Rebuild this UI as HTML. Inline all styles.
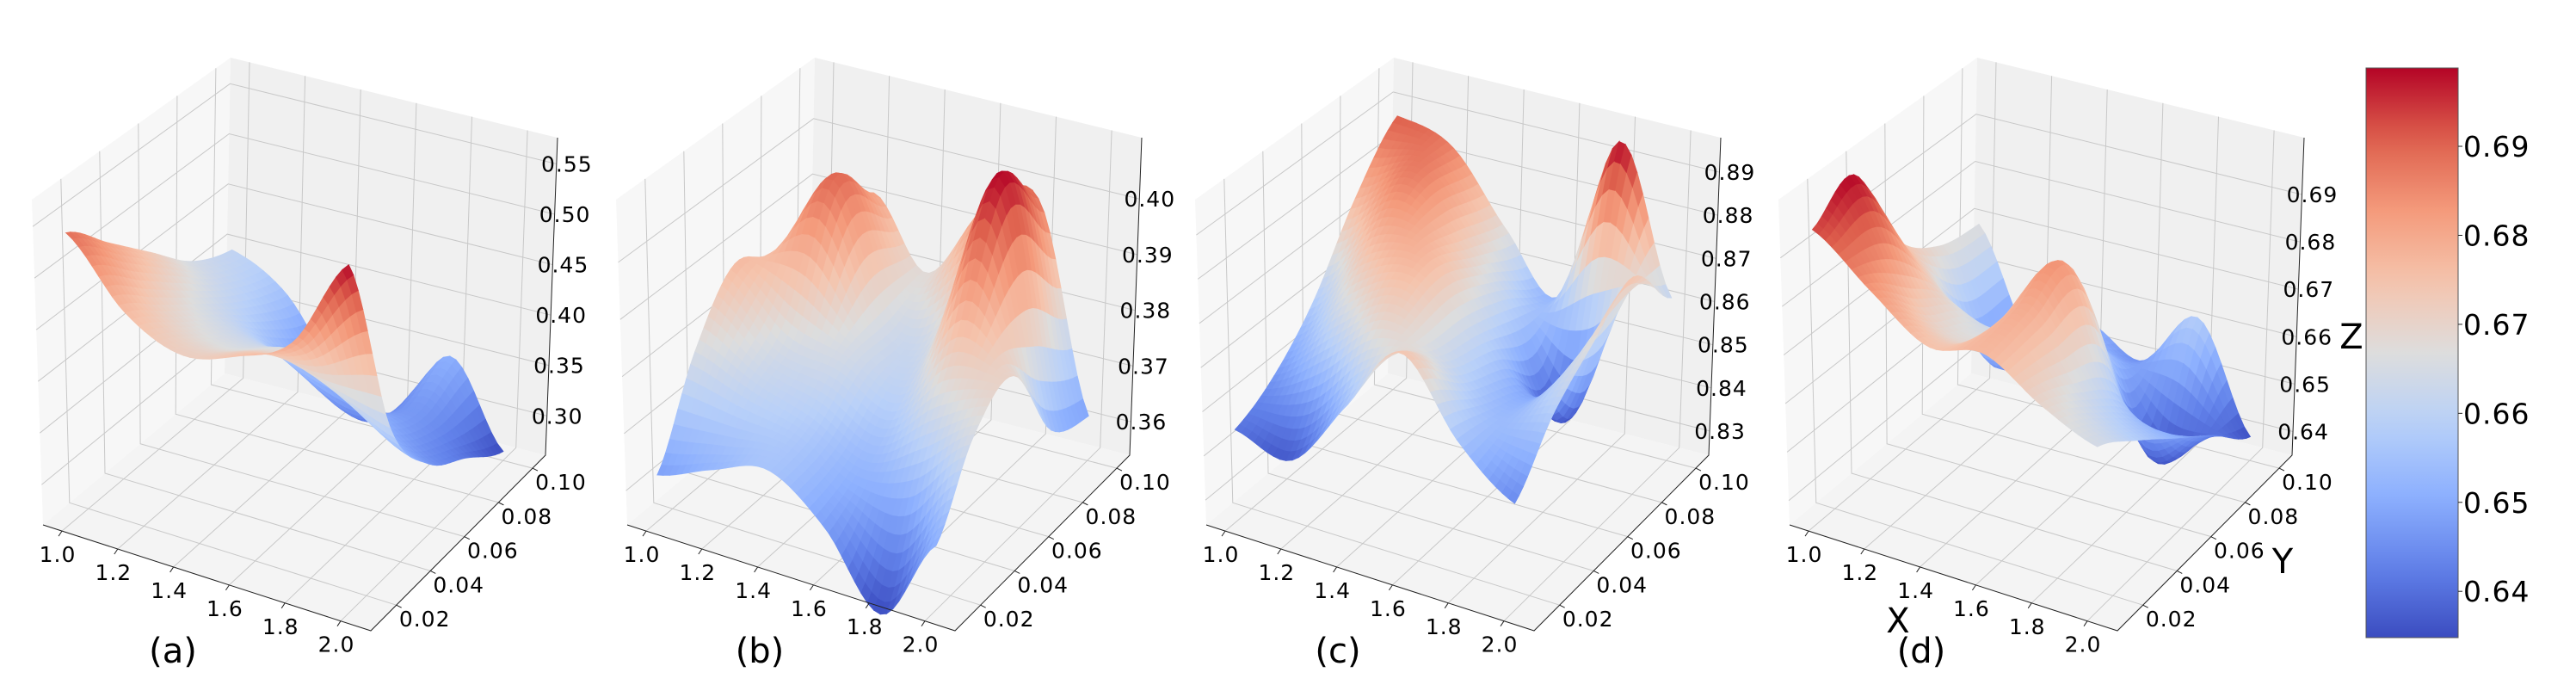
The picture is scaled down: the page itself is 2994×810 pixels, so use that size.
<!DOCTYPE html>
<html><head><meta charset="utf-8"><title>Surfaces</title>
<style>
html,body{margin:0;padding:0;background:#fff;}
svg{display:block;font-family:"DejaVu Sans","Liberation Sans",sans-serif;}
</style></head>
<body>
<svg id="fig" width="2994" height="810" viewBox="0 0 2994 810" xmlns="http://www.w3.org/2000/svg">
<g id="panels"></g>
<g id="cbar"></g>
</svg>
<script>
// ---- data ----
const xGrid = [1.0, 1.2, 1.4, 1.6, 1.8, 2.0];
const yGrid = [0.012, 0.034, 0.056, 0.078, 0.1];
const xTicks = [1.0, 1.2, 1.4, 1.6, 1.8, 2.0];
const xTickLabels = ["1.0","1.2","1.4","1.6","1.8","2.0"];
const yTicks = [0.02, 0.04, 0.06, 0.08, 0.10];
const yTickLabels = ["0.02","0.04","0.06","0.08","0.10"];
const surfaceA = [
 [0.54,0.48,0.455,0.47,0.50,0.59],
 [0.50,0.45,0.43,0.44,0.42,0.40],
 [0.46,0.42,0.40,0.40,0.36,0.33],
 [0.42,0.39,0.34,0.31,0.33,0.30],
 [0.40,0.37,0.30,0.28,0.35,0.27]];
const surfaceB = [
 [0.362,0.366,0.369,0.362,0.350,0.365],
 [0.378,0.374,0.371,0.366,0.370,0.378],
 [0.388,0.380,0.377,0.373,0.386,0.382],
 [0.383,0.400,0.378,0.380,0.408,0.366],
 [0.380,0.392,0.380,0.394,0.398,0.362]];
const surfaceC = [
 [0.845,0.842,0.858,0.874,0.858,0.848],
 [0.850,0.860,0.870,0.865,0.856,0.860],
 [0.860,0.874,0.876,0.862,0.852,0.868],
 [0.876,0.884,0.872,0.858,0.842,0.875],
 [0.888,0.884,0.868,0.856,0.895,0.862]];
const surfaceD = [
 [0.695,0.686,0.678,0.680,0.673,0.668],
 [0.700,0.678,0.672,0.682,0.668,0.662],
 [0.680,0.670,0.668,0.685,0.660,0.655],
 [0.672,0.650,0.660,0.660,0.640,0.648],
 [0.670,0.648,0.655,0.650,0.662,0.640]];
const zTicksA = [0.30,0.35,0.40,0.45,0.50,0.55];
const zTickLabelsA = ["0.30","0.35","0.40","0.45","0.50","0.55"];
const zTicksB = [0.36,0.37,0.38,0.39,0.40];
const zTickLabelsB = ["0.36","0.37","0.38","0.39","0.40"];
const zTicksC = [0.83,0.84,0.85,0.86,0.87,0.88,0.89];
const zTickLabelsC = ["0.83","0.84","0.85","0.86","0.87","0.88","0.89"];
const zTicksD = [0.64,0.65,0.66,0.67,0.68,0.69];
const zTickLabelsD = ["0.64","0.65","0.66","0.67","0.68","0.69"];
const zRangeA = [0.261,0.576], zRangeB = [0.354,0.411], zRangeC = [0.8244,0.898], zRangeD = [0.635,0.702];
const cbarTicks = [0.64,0.65,0.66,0.67,0.68,0.69];
const cbarTickLabels = ["0.64","0.65","0.66","0.67","0.68","0.69"];
const cbarRange = [0.6348,0.6988];
const panelNames = ["(a)","(b)","(c)","(d)"];

// ---- geometry ----
const NS="http://www.w3.org/2000/svg";
const X_MIN=0.932, X_MAX=2.108, Y_MIN=0.005, Y_MAX=0.1076;
const F00=[50,610],F10=[431,733],F11=[634,529],F01=[261,434];
const T00=[37,232],T10=[426,348],T11=[648,160],T01=[268,67];
const cmStops=[[0,59,76,192],[0.125,98,130,234],[0.25,141,176,254],[0.375,184,208,249],[0.5,221,221,221],[0.625,245,196,173],[0.75,244,154,123],[0.875,222,96,77],[1,180,4,38]];
function cmap(t){t=Math.max(0,Math.min(1,t));for(let i=1;i<cmStops.length;i++){if(t<=cmStops[i][0]){const a=cmStops[i-1],b=cmStops[i],f=(t-a[0])/(b[0]-a[0]);return `rgb(${Math.round(a[1]+f*(b[1]-a[1]))},${Math.round(a[2]+f*(b[2]-a[2]))},${Math.round(a[3]+f*(b[3]-a[3]))})`;}}return 'rgb(180,4,38)';}
function bil(a,b,c,d,u,v){return [(1-u)*(1-v)*a[0]+u*(1-v)*b[0]+u*v*c[0]+(1-u)*v*d[0],(1-u)*(1-v)*a[1]+u*(1-v)*b[1]+u*v*c[1]+(1-u)*v*d[1]];}
function proj(off,u,v,w){const B=bil(F00,F10,F11,F01,u,v),T=bil(T00,T10,T11,T01,u,v);return [off+B[0]+w*(T[0]-B[0]),B[1]+w*(T[1]-B[1])];}
const xScale=x=>(x-X_MIN)/(X_MAX-X_MIN), yScale=y=>(y-Y_MIN)/(Y_MAX-Y_MIN);
function mk(tag,attrs,parent){const e=document.createElementNS(NS,tag);for(const k in attrs)e.setAttribute(k,attrs[k]);parent.appendChild(e);return e;}
function pts(a){return a.map(p=>p[0].toFixed(1)+','+p[1].toFixed(1)).join(' ');}
function cr(p0,p1,p2,p3,t){return 0.5*((2*p1)+(-p0+p2)*t+(2*p0-5*p1+4*p2-p3)*t*t+(-p0+3*p1-3*p2+p3)*t*t*t);}
function interp(grid,fi,fj){
 const R=grid.length,C=grid[0].length;
 const g=(i,j)=>grid[Math.max(0,Math.min(R-1,i))][Math.max(0,Math.min(C-1,j))];
 const i=Math.min(R-2,Math.floor(fi)),j=Math.min(C-2,Math.floor(fj)),ti=fi-i,tj=fj-j;
 const rows=[];for(let k=-1;k<3;k++){rows.push(cr(g(i+k,j-1),g(i+k,j),g(i+k,j+1),g(i+k,j+2),tj));}
 return cr(rows[0],rows[1],rows[2],rows[3],ti);
}

const panels=[
 {off:0,grid:surfaceA,zr:zRangeA,zt:zTicksA,zl:zTickLabelsA},
 {off:679,grid:surfaceB,zr:zRangeB,zt:zTicksB,zl:zTickLabelsB},
 {off:1352,grid:surfaceC,zr:zRangeC,zt:zTicksC,zl:zTickLabelsC},
 {off:2030,grid:surfaceD,zr:zRangeD,zt:zTicksD,zl:zTickLabelsD}];
const root=document.getElementById('panels');
const labelPos=[201,883,1555,2233];
panels.forEach((P,pi)=>{
 const g=mk('g',{},root);
 
 
 const o=P.off, zw=z=>(z-P.zr[0])/(P.zr[1]-P.zr[0]);
 const lw=mk('polygon',{points:pts([proj(o,0,0,0),proj(o,0,1,0),proj(o,0,1,1),proj(o,0,0,1)]),fill:'#f7f7f7'},g);
 
 const bw=mk('polygon',{points:pts([proj(o,0,1,0),proj(o,1,1,0),proj(o,1,1,1),proj(o,0,1,1)]),fill:'#f0f0f0'},g);
 
 const fl=mk('polygon',{points:pts([proj(o,0,0,0),proj(o,1,0,0),proj(o,1,1,0),proj(o,0,1,0)]),fill:'#f4f4f4'},g);
 
 const grid=mk('g',{stroke:'#c8c8c8','stroke-width':1,fill:'none'},g);
 
 xTicks.forEach(x=>{const u=xScale(x);
  mk('polyline',{points:pts([proj(o,u,0,0),proj(o,u,1,0),proj(o,u,1,1)])},grid);});
 yTicks.forEach(y=>{const v=yScale(y);
  mk('polyline',{points:pts([proj(o,1,v,0),proj(o,0,v,0),proj(o,0,v,1)])},grid);});
 P.zt.forEach(z=>{const w=zw(z);
  mk('polyline',{points:pts([proj(o,0,0,w),proj(o,0,1,w),proj(o,1,1,w)])},grid);});
 const NX=44,NY=36,R=P.grid.length,C=P.grid[0].length;
 const Z=[];let zmin=1e9,zmax=-1e9;
 for(let a=0;a<=NY;a++){Z.push([]);for(let b=0;b<=NX;b++){const z=interp(P.grid,a/NY*(R-1),b/NX*(C-1));Z[a].push(z);zmin=Math.min(zmin,z);zmax=Math.max(zmax,z);}}
 const quads=[];
 for(let a=0;a<NY;a++)for(let b=0;b<NX;b++){
  const xs=[b,b+1,b+1,b].map(k=>xGrid[0]+(xGrid[C-1]-xGrid[0])*k/NX);
  const ys=[a,a,a+1,a+1].map(k=>yGrid[0]+(yGrid[R-1]-yGrid[0])*k/NY);
  const zs=[Z[a][b],Z[a][b+1],Z[a+1][b+1],Z[a+1][b]];
  const p=[0,1,2,3].map(k=>proj(o,xScale(xs[k]),yScale(ys[k]),zw(zs[k])));
  const zm=(zs[0]+zs[1]+zs[2]+zs[3])/4;
  quads.push({p,d:xScale((xs[0]+xs[1])/2)-yScale((ys[0]+ys[2])/2),c:cmap((zm-zmin)/(zmax-zmin))});
 }
 quads.sort((q1,q2)=>q1.d-q2.d);
 const sg=mk('g',{'stroke-width':0.8},g);
 
 quads.forEach(q=>{mk('polygon',{points:pts(q.p),fill:q.c,stroke:q.c},sg);});
 const ax=mk('g',{stroke:'#222','stroke-width':1,fill:'none'},g);
 
 mk('polyline',{points:pts([proj(o,0,0,0),proj(o,1,0,0),proj(o,1,1,0),proj(o,1,1,1)])},ax);
 const tl=mk('g',{'font-size':25,fill:'#000','text-anchor':'middle','letter-spacing':1},g);
 
 xTicks.forEach((x,i)=>{const u=xScale(x);const p=proj(o,u,0,0);
  mk('line',{x1:p[0],y1:p[1],x2:p[0]-4,y2:p[1]+6,stroke:'#222'},tl);
  const t=mk('text',{x:p[0]-5,y:p[1]+36},tl);t.textContent=xTickLabels[i];
  });
 yTicks.forEach((y,i)=>{const v=yScale(y);const p=proj(o,1,v,0);
  mk('line',{x1:p[0],y1:p[1],x2:p[0]+6,y2:p[1]+3,stroke:'#222'},tl);
  const t=mk('text',{x:p[0]+33,y:p[1]+25},tl);t.textContent=yTickLabels[i];
  });
 P.zt.forEach((z,i)=>{const p=proj(o,1,1,zw(z));
  const t=mk('text',{x:p[0]+12,y:p[1]+9},tl);t.textContent=P.zl[i];
  });
 const pl=mk('text',{x:labelPos[pi],y:770,'font-size':40,'text-anchor':'middle'},g);
 pl.textContent=panelNames[pi];
 
});
[["X",2206,735],["Y",2653,666],["Z",2733,405]].forEach(a=>{
 const t=mk('text',{x:a[1],y:a[2],'font-size':40,'text-anchor':'middle'},root);t.textContent=a[0];
 
 
});
const cb=document.getElementById('cbar');
const CB_X=2750,CB_W=107,CB_TOP=79,CB_BOT=741;
const defs=mk('defs',{},cb);
const lg=mk('linearGradient',{id:'cm',x1:0,y1:1,x2:0,y2:0},defs);
for(let i=0;i<=20;i++)mk('stop',{offset:i/20,'stop-color':cmap(i/20)},lg);
const rect=mk('rect',{x:CB_X,y:CB_TOP,width:CB_W,height:CB_BOT-CB_TOP,fill:'url(#cm)',stroke:'#555','stroke-width':1},cb);

const cy=v=>CB_BOT-(v-cbarRange[0])/(cbarRange[1]-cbarRange[0])*(CB_BOT-CB_TOP);
cbarTicks.forEach((v,i)=>{const y=cy(v);
 mk('line',{x1:CB_X+CB_W,y1:y,x2:CB_X+CB_W+5,y2:y,stroke:'#222'},cb);
 const t=mk('text',{x:CB_X+CB_W+6,y:y+12,'font-size':33,'letter-spacing':1},cb);t.textContent=cbarTickLabels[i];
 });
</script>
</body></html>
